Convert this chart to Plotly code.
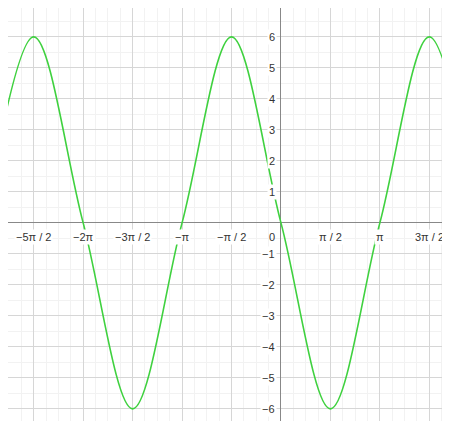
import numpy as np
import plotly.graph_objects as go

PI = np.pi
# key points of the curve (quarter periods)
quarter = [-6, -5, -4, -3, -2, -1, 0, 1, 2, 3, 4]  # multiples of pi/2
y_vals = [0, 6, 0, -6, 0, 6, 0, -6, 0, 6, 0]

x_tick_mult = [-5, -4, -3, -2, -1, 1, 2, 3]
x_tick_text = ["−5π / 2", "−2π", "−3π / 2", "−π", "−π / 2", "π / 2", "π", "3π / 2"]
y_ticks = [-6, -5, -4, -3, -2, -1, 1, 2, 3, 4, 5, 6]

x_pts = [q * PI / 2 for q in quarter]

fig = go.Figure()
fig.add_trace(go.Scatter(x=x_pts, y=y_vals, mode="lines",
                         line=dict(color="#3fd13f", width=1.6, shape="spline", smoothing=1.0),
                         hoverinfo="skip"))

xr = [-2.76 * PI, 1.79 * PI]
yr = [-6.65, 6.93]

fig.update_xaxes(range=xr, tickvals=[k * PI / 2 for k in range(-6, 5)], showticklabels=False,
                 showgrid=True, gridcolor="#d6d6d6", gridwidth=1,
                 minor=dict(dtick=PI / 8, tick0=0, showgrid=True, gridcolor="#f2f2f2"),
                 zeroline=True, zerolinecolor="#888888", zerolinewidth=1.3, showline=False)
fig.update_yaxes(range=yr, tickvals=list(range(-7, 8)), showticklabels=False,
                 showgrid=True, gridcolor="#d6d6d6", gridwidth=1,
                 minor=dict(dtick=0.5, tick0=0, showgrid=True, gridcolor="#f2f2f2"),
                 zeroline=True, zerolinecolor="#888888", zerolinewidth=1.3, showline=False)

ann = []
for m, t in zip(x_tick_mult, x_tick_text):
    ann.append(dict(x=m * PI / 2, y=0, text=t, showarrow=False, yshift=-14,
                    font=dict(size=11, color="#333333"), bgcolor="white"))
for v in y_ticks:
    ann.append(dict(x=0, y=v, text=str(v).replace("-", "−"), showarrow=False, xshift=-4,
                    xanchor="right", font=dict(size=11, color="#333333"), bgcolor="white"))
ann.append(dict(x=0, y=0, text="0", showarrow=False, xshift=-4, yshift=-14, xanchor="right",
                font=dict(size=11, color="#333333")))

fig.update_layout(width=450, height=421, margin=dict(l=0, r=0, t=0, b=0),
                  plot_bgcolor="white", paper_bgcolor="white", showlegend=False,
                  annotations=ann, font=dict(family="Arial"))
fig.write_html("out.html")
